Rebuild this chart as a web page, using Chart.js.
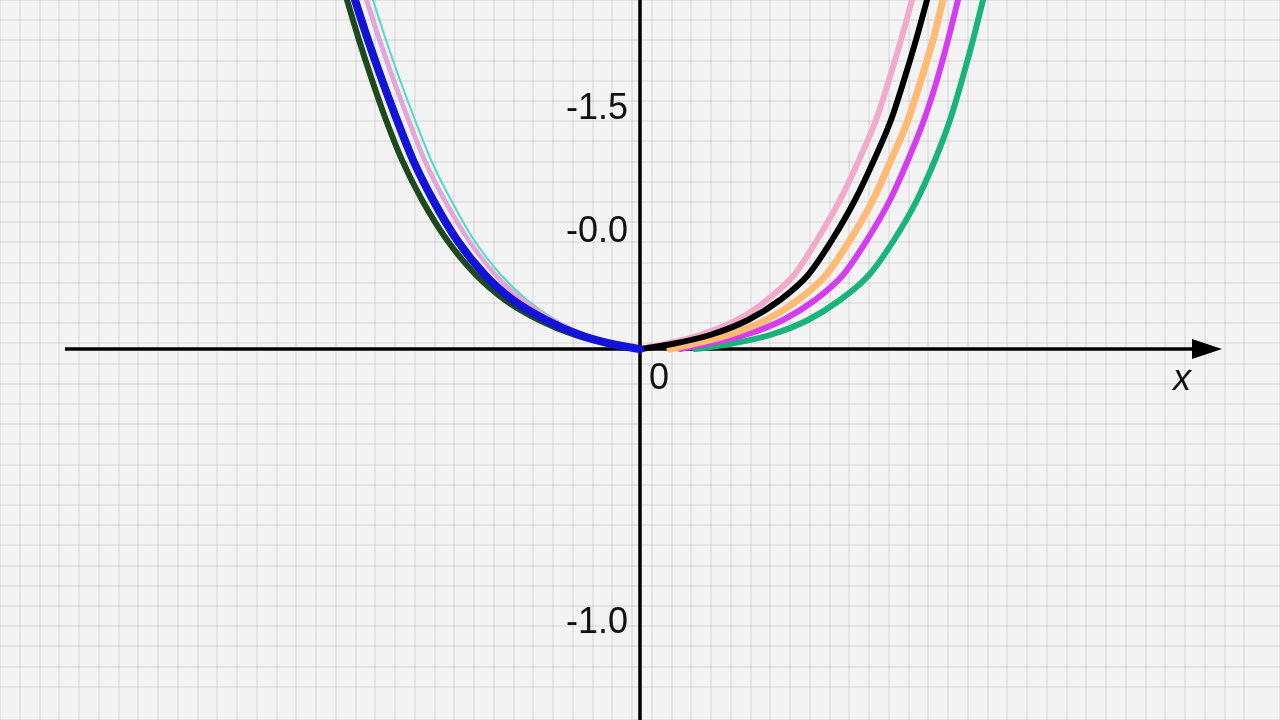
<!DOCTYPE html>
<html>
<head>
<meta charset="utf-8">
<script src="https://cdn.jsdelivr.net/npm/chart.js@4"></script>
<style>
  html, body { margin: 0; padding: 0; background: #f3f3f3; overflow: hidden; }
  canvas { display: block; }
</style>
</head>
<body>
<canvas id="grafica" width="1280" height="720"></canvas>
<script>
// alturas comunes (y) de arriba hacia el origen
const niveles = [3.49, 3.09, 2.69, 2.29, 1.89, 1.49, 1.09, 0.74, 0.49, 0.29, 0.14, 0.05, 0];

// rama izquierda, valores x en cada nivel
const izqAzul = [-2.85, -2.72, -2.58, -2.43, -2.27, -2.07, -1.83, -1.55, -1.27, -0.94, -0.60, -0.28, 0];
const izqVerdeOscuro = [-2.93, -2.81, -2.68, -2.54, -2.38, -2.18, -1.93, -1.64, -1.35, -1.01, -0.65, -0.31, 0];
const izqLavanda = [-2.75, -2.62, -2.48, -2.33, -2.17, -1.97, -1.73, -1.46, -1.19, -0.88, -0.55, -0.25, 0];
const izqRosa = [-2.73, -2.60, -2.46, -2.31, -2.15, -1.95, -1.71, -1.44, -1.17, -0.87, -0.54, -0.24, 0];
const izqCian = [-2.67, -2.54, -2.40, -2.25, -2.09, -1.89, -1.66, -1.39, -1.13, -0.84, -0.52, -0.23, 0];

// rama derecha
const derNegro = [2.87, 2.76, 2.64, 2.51, 2.34, 2.15, 1.92, 1.68, 1.40, 1.08, 0.70, 0.32, 0];
const derRosa = [2.72, 2.61, 2.49, 2.36, 2.19, 2.00, 1.77, 1.54, 1.27, 0.97, 0.60, 0.25, 0];
const derNaranja = [3.03, 2.93, 2.81, 2.68, 2.51, 2.33, 2.10, 1.86, 1.58, 1.26, 0.88, 0.52, 0.30];
const derMagenta = [3.18, 3.08, 2.97, 2.84, 2.68, 2.50, 2.27, 2.03, 1.75, 1.43, 1.05, 0.66, 0.40];
const derVerde = [3.43, 3.33, 3.22, 3.10, 2.95, 2.77, 2.54, 2.29, 2.00, 1.68, 1.30, 0.90, 0.55];

// etiquetas del eje vertical
const marcasY = [2.41, 1.18, -2.73];
const etiquetasY = ["-1.5", "-0.0", "-1.0"];

// eje horizontal: inicio y punta de la flecha
const ejeXInicio = -5.75;
const ejeXFin = 5.82;

function puntos(xs) {
    return xs.map((x, i) => ({ x: x, y: niveles[i] }));
}

function serie(xs, color, ancho, orden) {
    return {
        data: puntos(xs),
        borderColor: color,
        borderWidth: ancho,
        borderCapStyle: "round",
        borderJoinStyle: "round",
        fill: false,
        pointRadius: 0,
        cubicInterpolationMode: "monotone",
        order: orden
    };
}

const ejes = {
    id: "ejes",
    beforeDatasetsDraw(chart) {
        const ctx = chart.ctx;
        const x = chart.scales.x;
        const y = chart.scales.y;
        const x0 = x.getPixelForValue(0);
        const y0 = y.getPixelForValue(0);
        const xa = x.getPixelForValue(ejeXInicio);
        const xb = x.getPixelForValue(ejeXFin);
        ctx.save();
        ctx.strokeStyle = "#000";
        ctx.fillStyle = "#000";
        ctx.lineWidth = 3.5;
        ctx.beginPath();
        ctx.moveTo(x0, 0);
        ctx.lineTo(x0, chart.height);
        ctx.moveTo(xa, y0);
        ctx.lineTo(xb - 20, y0);
        ctx.stroke();
        ctx.beginPath();
        ctx.moveTo(xb, y0);
        ctx.lineTo(xb - 30, y0 - 10);
        ctx.lineTo(xb - 30, y0 + 10);
        ctx.closePath();
        ctx.fill();

        ctx.fillStyle = "#111";
        ctx.font = "36px 'Liberation Sans', Arial, sans-serif";
        ctx.textAlign = "right";
        ctx.textBaseline = "middle";
        marcasY.forEach((v, i) => {
            ctx.fillText(etiquetasY[i], x0 - 12, y.getPixelForValue(v) + 1);
        });
        ctx.textAlign = "left";
        ctx.fillText("0", x0 + 9, y0 + 30);
        ctx.font = "italic 36px 'Liberation Sans', Arial, sans-serif";
        ctx.textAlign = "center";
        ctx.fillText("x", xb - 40, y0 + 31);
        ctx.restore();
    }
};

const config = {
    type: "line",
    data: {
        datasets: [
            serie(izqVerdeOscuro, "#1d4a1d", 6, 5),
            serie(izqCian, "#48dccc", 2, 6),
            serie(izqRosa, "#e8a4d4", 4, 4),
            serie(izqLavanda, "#c8a8f0", 2, 4),
            serie(izqAzul, "#1212d8", 8, 1),
            serie(derVerde, "#17b57a", 6, 6),
            serie(derMagenta, "#d43cf0", 6, 5),
            serie(derNaranja, "#ffbb74", 7, 4),
            serie(derRosa, "#f2aacb", 6, 3),
            serie(derNegro, "#000000", 6, 2)
        ]
    },
    options: {
        responsive: false,
        animation: false,
        devicePixelRatio: 1,
        layout: { padding: 0 },
        plugins: {
            legend: { display: false },
            tooltip: { enabled: false }
        },
        scales: {
            x: { type: "linear", min: -6.4, max: 6.4, display: false },
            y: { type: "linear", min: -3.71, max: 3.49, display: false },
            gx: {
                type: "linear", axis: "x", position: "top", min: 0, max: 1280,
                ticks: { display: false, stepSize: 19.75 },
                border: { display: false },
                grid: { color: "rgba(0,0,0,0.06)", lineWidth: 2, drawTicks: false }
            },
            gy: {
                type: "linear", axis: "y", position: "left", min: 0, max: 720, reverse: true,
                ticks: { display: false, stepSize: 20.2 },
                border: { display: false },
                grid: { color: "rgba(0,0,0,0.06)", lineWidth: 2, drawTicks: false }
            }
        }
    },
    plugins: [ejes]
};

new Chart(document.getElementById("grafica"), config);
</script>
</body>
</html>
